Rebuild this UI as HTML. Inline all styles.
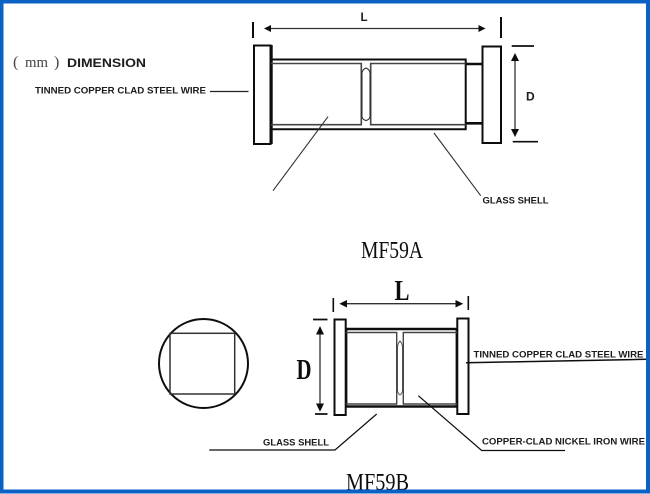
<!DOCTYPE html>
<html>
<head>
<meta charset="utf-8">
<style>
html,body{margin:0;padding:0;background:#fff;width:650px;height:494px;overflow:hidden}
svg{display:block}
.s{font-family:"Liberation Sans",sans-serif;font-weight:bold;fill:#1a1a1a}
.f{font-family:"Liberation Serif",serif;fill:#111}
</style>
</head>
<body>
<svg width="650" height="494" viewBox="0 0 650 494" xmlns="http://www.w3.org/2000/svg">
<defs>
<filter id="b" x="-5%" y="-5%" width="110%" height="110%"><feGaussianBlur stdDeviation="0.35"/></filter>
</defs>
<rect width="650" height="494" fill="#fff"/>
<g filter="url(#b)">
<!-- MF59A -->
<g fill="none" stroke="#111">
<rect x="254" y="45.500" width="16.500" height="98.500" stroke-width="2"/>
<rect x="482.500" y="46.500" width="18.500" height="96.500" stroke-width="2"/>
<path d="M270.700 59.500H465.700V129.300H270.700" stroke-width="2"/>
<path d="M271.500 45V144" stroke-width="2.400"/>
<path d="M271 59V129" stroke-width="2.600"/>
<path d="M465.700 64H482M465.700 123.300H482" stroke-width="2.600"/>
<path d="M271 63.500H361.300V124.700H271M465.700 63.500H370.700V124.700H465.700" stroke="#444" stroke-width="1.600"/>
<path d="M366 68C361 70 362 74 362 78V112C362 116 361 119 366 120.500C371 119 370 116 370 112V78C370 74 371 70 366 68Z" stroke="#222" stroke-width="1"/>
<path d="M253 22V38M501 17V38" stroke-width="2"/>
<path d="M268 28.500H481" stroke="#333" stroke-width="1.300"/>
<path d="M511.700 46H534M512.700 141.700H538" stroke-width="1.700"/>
<path d="M515 58V132" stroke="#333" stroke-width="1.300"/>
<path d="M210 91.500H248.500" stroke="#222" stroke-width="1.200"/>
<path d="M328 116.700L273 190.700M434 133L480.700 195.700" stroke="#333" stroke-width="1.100"/>
</g>
<g fill="#111">
<path d="M264 28.500L271 25V32ZM485.500 28.500L478.500 25V32Z"/>
<path d="M515 53L511 61H519ZM515 137L511 129H519Z"/>
</g>
<text class="s" x="360.500" y="21" font-size="11.500">L</text>
<text class="s" x="526" y="100.500" font-size="12">D</text>
<text class="s" x="482.500" y="203.500" font-size="9" textLength="66" lengthAdjust="spacingAndGlyphs">GLASS SHELL</text>
<text class="s" x="35" y="93.500" font-size="9" textLength="171" lengthAdjust="spacingAndGlyphs">TINNED COPPER CLAD STEEL WIRE</text>
<text class="f" x="13" y="67" font-size="16" style="fill:#444">(</text>
<text class="f" x="25" y="67" font-size="15" textLength="23" lengthAdjust="spacingAndGlyphs" style="fill:#444">mm</text>
<text class="f" x="54" y="67" font-size="16" style="fill:#444">)</text>
<text class="s" x="67" y="67" font-size="12" textLength="79" lengthAdjust="spacingAndGlyphs">DIMENSION</text>
<text class="f" x="361" y="258" font-size="24" textLength="62" lengthAdjust="spacingAndGlyphs">MF59A</text>

<!-- MF59B -->
<circle cx="203.500" cy="363.500" r="44.500" fill="none" stroke="#111" stroke-width="2"/>
<rect x="170" y="333.300" width="64.700" height="60.700" fill="none" stroke="#333" stroke-width="1.500"/>
<g fill="none" stroke="#111">
<rect x="334.500" y="319.500" width="11.200" height="95.500" stroke-width="2"/>
<rect x="457.300" y="318.500" width="11.200" height="95.500" stroke-width="2"/>
<path d="M345.700 329H457.300" stroke-width="2.400"/>
<path d="M345.700 406.500H457.300" stroke-width="2.600"/>
<path d="M346.500 329V407M456.500 329V407" stroke-width="1.800"/>
<path d="M346 332.500H396.700V404H346M457 332.500H403.300V404H457" stroke="#444" stroke-width="1.400"/>
<path d="M400 341C397 344 397.500 348 397.500 352V386C397.500 390 397 393 400 395C403 393 402.500 390 402.500 386V352C402.500 348 403 344 400 341Z" stroke="#444" stroke-width="0.900"/>
<path d="M333.300 298V312M468.300 296V310" stroke-width="1.600"/>
<path d="M343 303.700H460" stroke="#333" stroke-width="1.300"/>
<path d="M313 319.500H327.500M315 414H327.500" stroke-width="1.700"/>
<path d="M320 332V406" stroke="#333" stroke-width="1.300"/>
<path d="M376.700 414L335 450H209.300" stroke="#111" stroke-width="1.200"/>
<path d="M418.300 395.700L481.700 450.500H565" stroke="#111" stroke-width="1.200"/>
<path d="M466 362.700L646.700 359.300" stroke="#111" stroke-width="1.500"/>
</g>
<g fill="#111">
<path d="M339.300 303.700L347 300V307.500ZM463.300 303.700L455.500 300V307.500Z"/>
<path d="M320 326L316 334.500H324ZM320 411.700L316 403.500H324Z"/>
</g>
<text class="f" x="394.500" y="300" font-size="28" textLength="15" lengthAdjust="spacingAndGlyphs" font-weight="bold">L</text>
<text class="f" x="296.500" y="379" font-size="28" textLength="15" lengthAdjust="spacingAndGlyphs" font-weight="bold">D</text>
<text class="s" x="263" y="445.500" font-size="9" textLength="66" lengthAdjust="spacingAndGlyphs">GLASS SHELL</text>
<text class="s" x="473.500" y="357.500" font-size="9" textLength="170" lengthAdjust="spacingAndGlyphs">TINNED COPPER CLAD STEEL WIRE</text>
<text class="s" x="482" y="444.500" font-size="9" textLength="163" lengthAdjust="spacingAndGlyphs">COPPER-CLAD NICKEL IRON WIRE</text>
<text class="f" x="346" y="490" font-size="24" textLength="63" lengthAdjust="spacingAndGlyphs">MF59B</text>
</g>
<!-- blue frame -->
<rect x="1.500" y="1.500" width="646.500" height="490" fill="none" stroke="#0b62c4" stroke-width="4"/>
</svg>
</body>
</html>
